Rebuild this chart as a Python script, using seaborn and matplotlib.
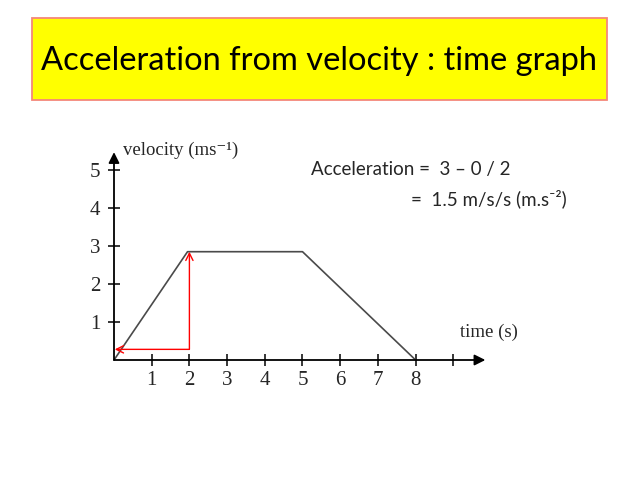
import matplotlib
matplotlib.use("Agg")
import matplotlib.pyplot as plt
import seaborn as sns
import pandas as pd
from matplotlib.patches import Rectangle

# --- dados do gráfico ---
TITLE = "Acceleration from velocity : time graph"
time_s = [0, 1.95, 5, 8]
velocity = [0, 2.85, 2.85, 0]
x_ticks = [1, 2, 3, 4, 5, 6, 7, 8, 9]
x_labels = ["1", "2", "3", "4", "5", "6", "7", "8", ""]
y_ticks = [1, 2, 3, 4, 5]
y_labels = ["1", "2", "3", "4", "5"]
rise_t = 2          # posição da seta vermelha vertical
rise_v = 2.85       # velocidade no patamar
guide_v = 0.28      # altura da seta vermelha horizontal
accel_lines = ["Acceleration =  3 \u2013 0 / 2", "=  1.5 m/s/s (m.s\u207b\u00b2)"]

sns.set_style("white")
SERIF = ["Liberation Serif", "DejaVu Serif"]
SANS = ["Lato", "DejaVu Sans"]

W, H = 638, 478
fig = plt.figure(figsize=(W / 100, H / 100), dpi=100)

# caixa amarela do título
fig.patches.append(Rectangle((32 / W, 1 - 100 / H), (607 - 32) / W, 82 / H,
                             transform=fig.transFigure, facecolor="#ffff00",
                             edgecolor="#f4877a", lw=1.3))
fig.text(319 / W, 1 - 61 / H, TITLE, ha="center", va="center",
         fontsize=23.5, family=SANS, color="black")

# eixos: origem em (114, 360) px, 37.7 px por segundo, 38 px por m/s
x0, y0 = 114, 360
ax = fig.add_axes([x0 / W, (H - y0) / H, 376 / W, 215 / H])
ax.set_xlim(0, 376 / 37.7)
ax.set_ylim(0, 215 / 38)
for s in ax.spines.values():
    s.set_visible(False)

df = pd.DataFrame({"t": time_s, "v": velocity})
sns.lineplot(data=df, x="t", y="v", ax=ax, color="#4a4a4a", lw=1.2)

# setas dos eixos
ax.annotate("", xy=(9.85, 0), xytext=(0, 0), annotation_clip=False,
            arrowprops=dict(arrowstyle="-|>", color="black", lw=1.3,
                            mutation_scale=16, shrinkA=0, shrinkB=0))
ax.annotate("", xy=(0, 5.47), xytext=(0, 0), annotation_clip=False,
            arrowprops=dict(arrowstyle="-|>", color="black", lw=1.3,
                            mutation_scale=16, shrinkA=0, shrinkB=0))

# setas vermelhas (subida e tempo)
ax.annotate("", xy=(rise_t, rise_v), xytext=(rise_t, guide_v),
            arrowprops=dict(arrowstyle="->", color="red", lw=1.0,
                            mutation_scale=13, shrinkA=0, shrinkB=0))
ax.annotate("", xy=(0.02, guide_v), xytext=(rise_t, guide_v),
            arrowprops=dict(arrowstyle="->", color="red", lw=1.0,
                            mutation_scale=13, shrinkA=0, shrinkB=0))

ax.set_xticks(x_ticks)
ax.set_xticklabels(x_labels)
ax.set_yticks(y_ticks)
ax.set_yticklabels(y_labels)
ax.tick_params(bottom=True, left=True, direction="inout", length=8, width=1.1,
               color="black", labelsize=15, pad=4)
ax.tick_params(axis="y", pad=6)
for lab in ax.get_xticklabels() + ax.get_yticklabels():
    lab.set_family(SERIF)
ax.set_xlabel("")
ax.set_ylabel("")

ax.text(0.24, 5.53, "velocity (ms\u207b\u00b9)", family=SERIF, fontsize=13.5,
        va="center", ha="left", clip_on=False)
ax.text(9.18, 0.74, "time (s)", family=SERIF, fontsize=13.5,
        va="center", ha="left", clip_on=False)

# texto do cálculo
fig.text(311 / W, 1 - 169 / H, accel_lines[0], family=SANS, fontsize=13.5,
         va="center", ha="left")
fig.text(411 / W, 1 - 199 / H, accel_lines[1], family=SANS, fontsize=13.5,
         va="center", ha="left")

fig.savefig("out.png", dpi=100)
